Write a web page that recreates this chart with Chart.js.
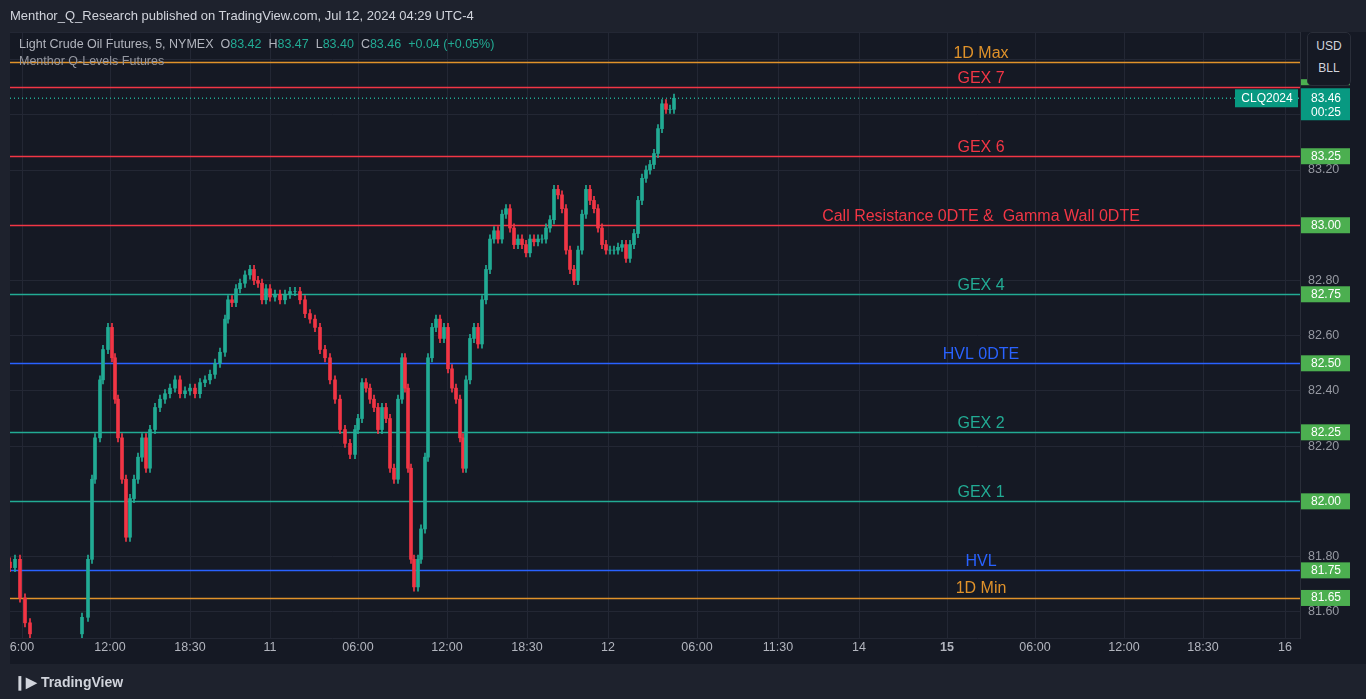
<!DOCTYPE html>
<html>
<head>
<meta charset="utf-8">
<script src="https://cdn.jsdelivr.net/npm/chart.js@4"></script>
<style>
  html, body { margin: 0; padding: 0; background: #1e222d; width: 1366px; height: 699px; overflow: hidden; font-family: "Liberation Sans", Arial, sans-serif; }
  #wrap { position: absolute; left: 0; top: 0; width: 1366px; height: 699px; }
  #plotbg { position: absolute; left: 10px; top: 32px; width: 1356px; height: 632px; background: #151924; }
  #title { position: absolute; left: 10px; top: 8px; color: #d1d4dc; font-size: 13px; }
  #legend1 { position: absolute; left: 19px; top: 37px; color: #b2b5be; font-size: 12.5px; }
  #legend1 span.v { color: #22ab94; }
  #legend2 { position: absolute; left: 19px; top: 54px; color: #9598a1; font-size: 12.5px; }
  #foot { position: absolute; left: 14px; top: 674px; color: #d1d4dc; font-size: 14px; font-weight: bold; }
  #usd { position: absolute; left: 1307px; top: 32px; width: 42px; height: 50px; border: 1px solid #2a2e39; border-radius: 5px; background: #151924; color: #d1d4dc; font-size: 12px; text-align: center; line-height: 22px; padding-top: 2px; }
  canvas { position: absolute; left: 0; top: 0; }
</style>
</head>
<body>
<div id="wrap">
  <div id="plotbg"></div>
  <canvas id="chart1" width="1366" height="699"></canvas>
  <div id="title">Menthor_Q_Research published on TradingView.com, Jul 12, 2024 04:29 UTC-4</div>
  <div id="legend1">Light Crude Oil Futures, 5, NYMEX &nbsp;O<span class="v">83.42</span> &nbsp;H<span class="v">83.47</span> &nbsp;L<span class="v">83.40</span> &nbsp;C<span class="v">83.46</span> &nbsp;<span class="v">+0.04 (+0.05%)</span></div>
  <div id="legend2">Menthor Q-Levels Futures</div>
  <div id="usd">USD<br>BLL</div>
  <div id="foot">&#x2759;&#x25B6; TradingView</div>
</div>
<script>
// bar index (5-min bars) and close prices
const barIdx = [0,5,10,15,20,72,78,82,85,90,93,98,102,105,108,112,116,120,124,128,132,136,140,145,150,155,160,165,170,175,180,185,190,195,200,205,210,215,218,222,226,230,235,240,244,248,252,256,260,265,270,275,280,285,290,295,300,305,310,315,320,325,330,335,340,345,348,352,356,360,364,368,372,376,380,384,388,392,395,398,401,404,408,411,415,418,422,426,430,434,438,442,446,450,453,456,460,464,468,472,476,480,484,488,492,496,500,504,508,512,516,520,524,528,532,536,540,544,548,552,556,560,564,568,572,576,580,584,588,592,596,600,604,608,612,616,620,624,628,632,636,640,644,648,652,656,660,664];
const closes = [81.76,81.79,81.65,81.56,81.52,81.58,81.79,82.08,82.23,82.44,82.55,82.63,82.52,82.37,82.23,82.08,81.87,82.01,82.08,82.16,82.23,82.12,82.26,82.34,82.37,82.39,82.41,82.44,82.39,82.40,82.41,82.39,82.43,82.44,82.46,82.50,82.54,82.66,82.73,82.72,82.77,82.79,82.82,82.84,82.80,82.79,82.73,82.77,82.74,82.75,82.73,82.75,82.76,82.76,82.73,82.68,82.66,82.63,82.55,82.52,82.44,82.37,82.26,82.21,82.17,82.26,82.30,82.43,82.41,82.37,82.34,82.26,82.34,82.30,82.12,82.08,82.37,82.52,82.41,82.12,81.79,81.69,81.79,81.90,82.16,82.52,82.63,82.66,82.59,82.63,82.48,82.41,82.37,82.23,82.12,82.44,82.59,82.63,82.57,82.73,82.84,82.95,82.98,82.95,83.04,83.06,82.99,82.93,82.95,82.93,82.90,82.95,82.94,82.95,82.95,82.99,83.02,83.13,83.11,83.06,82.91,82.84,82.80,82.91,83.04,83.13,83.09,83.06,82.99,82.93,82.91,82.91,82.91,82.92,82.93,82.88,82.93,82.97,83.09,83.17,83.20,83.22,83.26,83.35,83.44,83.42,83.42,83.46];

const levelNames = ["1D Max","GEX 7","GEX 6","Call Resistance 0DTE &  Gamma Wall 0DTE","GEX 4","HVL 0DTE","GEX 2","GEX 1","HVL","1D Min"];
const levelValues = [83.59,83.50,83.25,83.00,82.75,82.50,82.25,82.00,81.75,81.65];
const levelColors = ["#e0922a","#f23645","#f23645","#f23645","#22ab94","#2962ff","#22ab94","#22ab94","#2962ff","#e0922a"];
const boxValues = [83.25,83.00,82.75,82.50,82.25,82.00,81.75,81.65];

const tickBars = [12,100,180,260,348,437,517,598,687,768,849,937,1025,1114,1193,1275];
const tickLabels = ["6:00","12:00","18:30","11","06:00","12:00","18:30","12","06:00","11:30","14","15","06:00","12:00","18:30","16"];

const up = "#22ab94", dn = "#f23645";
const wicks = [], bodies = [], cols = [];
for (let i = 0; i < closes.length; i++) {
  const o = i === 0 ? closes[0] + 0.02 : closes[i - 1];
  const c = closes[i];
  wicks.push({ x: barIdx[i], y: [Math.min(o, c) - 0.015, Math.max(o, c) + 0.015] });
  bodies.push({ x: barIdx[i], y: [o, c] });
  cols.push(c >= o ? up : dn);
}

const levelsPlugin = {
  id: "levels",
  beforeDatasetsDraw(chart) {
    const { ctx, chartArea: a, scales: { x, y } } = chart;
    ctx.save();
    levelValues.forEach((v, i) => {
      const py = Math.round(y.getPixelForValue(v)) + 0.5;
      ctx.strokeStyle = levelColors[i];
      ctx.lineWidth = 1.3;
      ctx.beginPath(); ctx.moveTo(a.left, py); ctx.lineTo(a.right, py); ctx.stroke();
    });
    // current price dotted line
    const cp = y.getPixelForValue(83.46);
    ctx.strokeStyle = "#22ab94"; ctx.setLineDash([1, 3]);
    ctx.beginPath(); ctx.moveTo(a.left, cp); ctx.lineTo(a.right, cp); ctx.stroke();
    ctx.restore();
  },
  afterDatasetsDraw(chart) {
    const { ctx, chartArea: a, scales: { x, y } } = chart;
    ctx.save();
    ctx.font = "16px 'Liberation Sans', Arial";
    ctx.textAlign = "center"; ctx.textBaseline = "bottom";
    const cx = x.getPixelForValue(971);
    levelValues.forEach((v, i) => {
      ctx.fillStyle = levelColors[i];
      ctx.fillText(levelNames[i], cx, y.getPixelForValue(v) - 1);
    });
    // right axis boxes
    ctx.font = "12px 'Liberation Sans', Arial";
    ctx.textAlign = "center"; ctx.textBaseline = "middle";
    boxValues.forEach(v => {
      const py = y.getPixelForValue(v);
      ctx.fillStyle = "#4caf50";
      ctx.fillRect(a.right + 1, py - 8, 49, 16);
      ctx.fillStyle = "#ffffff";
      ctx.fillText(v.toFixed(2), a.right + 26, py);
    });
    const cp = y.getPixelForValue(83.46);
    ctx.fillStyle = "#089981";
    ctx.fillRect(a.right + 1, cp - 10, 49, 32);
    ctx.fillRect(a.right - 65, cp - 9, 63, 18);
    ctx.fillStyle = "#ffffff";
    ctx.fillText("83.46", a.right + 26, cp);
    ctx.fillText("00:25", a.right + 26, cp + 14);
    ctx.fillText("CLQ2024", a.right - 33, cp);
    ctx.fillStyle = "#4caf50";
    ctx.fillRect(a.right + 1, y.getPixelForValue(83.50) - 8, 49, 6);
    ctx.restore();
  }
};

new Chart(document.getElementById("chart1").getContext("2d"), {
  type: "bar",
  data: {
    datasets: [
      { data: wicks, backgroundColor: cols, barThickness: 1, grouped: false },
      { data: bodies, backgroundColor: cols, barThickness: 3, grouped: false }
    ]
  },
  options: {
    responsive: false,
    animation: false,
    layout: { padding: { top: 32, left: 10, right: 16, bottom: 39 } },
    plugins: { legend: { display: false }, tooltip: { enabled: false } },
    scales: {
      x: {
        type: "linear", min: 0, max: 1290, offset: false,
        afterBuildTicks: s => { s.ticks = tickBars.map(v => ({ value: v })); },
        afterFit: s => { s.height = 22; },
        ticks: {
          autoSkip: false, maxRotation: 0, color: "#b2b5be", padding: 2,
          font: c => ({ size: 12.5, family: "'Liberation Sans', Arial", weight: tickLabels[c.index] === "15" ? "bold" : "normal" }),
          callback: (v, i) => tickLabels[i]
        },
        grid: { color: "#232734", drawTicks: false, offset: false },
        border: { display: false }
      },
      y: {
        position: "right", min: 81.505, max: 83.70,
        afterFit: s => { s.width = 50; },
        ticks: { stepSize: 0.2, color: "#9598a1", padding: 8, font: { size: 12.5, family: "'Liberation Sans', Arial" }, callback: v => (v > 83.3 || v < 81.55) ? "" : v.toFixed(2) },
        grid: { color: "#232734", drawTicks: false },
        border: { color: "#2a2e39" }
      }
    }
  },
  plugins: [levelsPlugin]
});
</script>
</body>
</html>
